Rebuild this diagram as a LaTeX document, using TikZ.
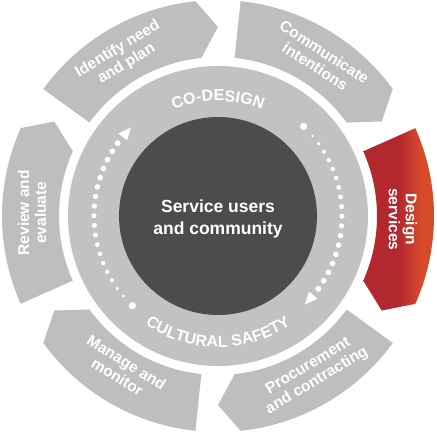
\documentclass[tikz,border=0pt]{standalone}
\usepackage{fontspec}
\setmainfont{Liberation Sans}
\usetikzlibrary{decorations.text}
\definecolor{seggray}{HTML}{BEBEBE}
\definecolor{ringgray}{HTML}{C2C2C2}
\definecolor{darkcore}{HTML}{4B4C4C}
\definecolor{redA}{HTML}{B3282F}
\definecolor{redB}{HTML}{D64B2A}
\pgfdeclarehorizontalshading{redshade}{100bp}{color(0bp)=(redA); color(48bp)=(redA); color(62bp)=(redB); color(100bp)=(redB)}
\newcommand\segpath[1]{(#1:159bp) -- (#1:216bp) arc[start angle=#1, delta angle=-48, radius=216bp] -- ({#1-54}:189bp) -- ({#1-48}:159bp) arc[start angle={#1-48}, delta angle=48, radius=159bp] -- cycle}
\newcommand\ringfont{\color{white}\fontsize{16bp}{16bp}\selectfont\bfseries}
\tikzset{
  segtext/.style={text=white, align=center, inner sep=0pt, font=\fontsize{15.5bp}{17bp}\selectfont\bfseries},
  coretext/.style={text=white, align=center, inner sep=0pt, font=\fontsize{17.5bp}{22bp}\selectfont\bfseries},
  dotdot/.style={fill=white}
}
\begin{document}
\begin{tikzpicture}
\useasboundingbox (-218bp,-219bp) rectangle (219bp,216bp);
% outer segments
\fill[seggray] \segpath{204};
\fill[seggray] \segpath{144};
\fill[seggray] \segpath{84};
\shade[shading=redshade] \segpath{24};
\fill[seggray] \segpath{-36};
\fill[seggray] \segpath{-96};
% ring and core
\fill[ringgray] (0,0) circle[radius=150bp];
\fill[darkcore] (0,0) circle[radius=99bp];
% segment labels
\node[segtext, rotate=90]  (review)  at (179:186bp) {Review and\\evaluate};
\node[segtext, rotate=31]  (identify) at (121:186bp) {Identify need\\and plan};
\node[segtext, rotate=-33] (communicate) at (57:187bp) {Communicate\\intentions};
\node[segtext, rotate=-90] (design) at (-1:185bp) {Design\\services};
\node[segtext, rotate=31]  (procure) at (-59:184bp) {Procurement\\and contracting};
\node[segtext, rotate=-32] (manage) at (238:181bp) {Manage and\\monitor};
% core text
\node[coretext] (core) at (0,-3bp) {Service users\\and community};
% ring texts
\path[decorate, decoration={text along path, text={|\ringfont|CO-DESIGN}, text align=center}]
  (150:115bp) arc[start angle=150, end angle=30, radius=115bp];
\path[decorate, decoration={text along path, text={|\ringfont|CULTURAL SAFETY}, text align=center}]
  (210:131bp) arc[start angle=210, end angle=330, radius=131bp];
% dotted arrows
\foreach \base in {0,180} {
  \fill[dotdot] ({226.3+\base}:124bp) circle[radius=3.6bp];
  \foreach \i in {0,...,17} {
    \pgfmathsetmacro\ang{220.2+\base-\i*4.48}
    \pgfmathsetmacro\rr{1.5+1.5*(\i/17)^0.5}
    \fill[dotdot] (\ang:124bp) circle[radius={\rr*1bp}];
  }
  \fill[dotdot] ({134.5+\base}:124bp) -- ({140.3+\base}:118.5bp) -- ({140.3+\base}:129.5bp) -- cycle;
}
\end{tikzpicture}
\end{document}
